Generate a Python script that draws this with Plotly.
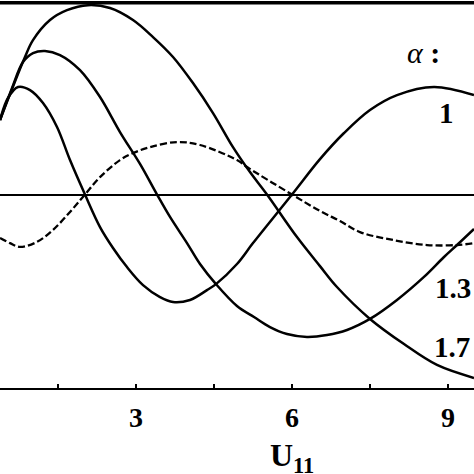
import plotly.graph_objects as go

# alpha = 1.7 (widest, highest peak)
u_a17 = [0.385, 0.615, 0.865, 1.019, 1.346, 1.673, 2.077, 2.5, 2.942, 3.327, 3.712, 4.096,
         4.481, 4.865, 5.192, 5.519, 6.096, 6.538, 6.865, 7.5, 8.154, 8.788, 9.5]
y_a17 = [0.385, 0.545, 0.711, 0.798, 0.902, 0.953, 0.979, 0.964, 0.902, 0.814, 0.711, 0.576,
         0.421, 0.245, 0.116, 0.0, -0.220, -0.370, -0.478, -0.643, -0.773, -0.881, -0.948]

# alpha = 1.3
u_a13 = [0.385, 0.615, 0.827, 1.019, 1.25, 1.538, 1.923, 2.308, 2.692, 3.077, 3.404, 3.654,
         3.981, 4.231, 4.538, 4.942, 5.269, 5.577, 5.904, 6.288, 6.673, 7.058, 7.5, 8.019,
         8.538, 8.923, 9.173, 9.5]
y_a13 = [0.385, 0.550, 0.685, 0.731, 0.742, 0.721, 0.643, 0.504, 0.323, 0.158, 0.0, -0.116,
         -0.251, -0.359, -0.463, -0.576, -0.633, -0.685, -0.721, -0.736, -0.726, -0.700, -0.643,
         -0.545, -0.426, -0.323, -0.261, -0.178]

# alpha = 1
u_a1 = [0.385, 0.538, 0.731, 0.962, 1.212, 1.481, 1.731, 2.019, 2.308, 2.558, 2.827, 3.135,
        3.462, 3.712, 4.038, 4.365, 4.538, 4.942, 5.25, 6.0, 6.538, 7.0, 7.5, 8.019, 8.731, 9.5]
y_a1 = [0.385, 0.499, 0.556, 0.540, 0.473, 0.349, 0.178, 0.0, -0.168, -0.276, -0.375, -0.468,
        -0.530, -0.556, -0.545, -0.494, -0.463, -0.359, -0.251, 0.0, 0.183, 0.318, 0.437, 0.514,
        0.556, 0.514]

# dashed curve
u_dash = [0.385, 0.577, 0.769, 1.096, 1.404, 1.731, 2.019, 2.308, 2.692, 2.942, 3.269, 3.788,
          4.231, 4.942, 5.135, 6.0, 6.538, 6.923, 7.308, 7.942, 8.596, 9.173, 9.5]
y_dash = [-0.225, -0.251, -0.271, -0.245, -0.183, -0.090, 0.0, 0.090, 0.178, 0.214, 0.245, 0.271,
          0.256, 0.178, 0.142, 0.0, -0.085, -0.137, -0.194, -0.235, -0.261, -0.261, -0.251]

major_ticks = [3, 6, 9]
tick_text = ["3", "6", "9"]
minor_ticks = [1.5, 4.5, 7.5]

labels = ["1", "1.3", "1.7"]
label_u = [8.98, 9.1, 9.08]
label_y = [0.421, -0.483, -0.788]

SERIF = "Liberation Serif, Times New Roman, serif"

fig = go.Figure()
for u, y in [(u_a17, y_a17), (u_a13, y_a13), (u_a1, y_a1)]:
    fig.add_trace(go.Scatter(x=u, y=y, mode="lines",
                             line=dict(color="black", width=2.5, shape="spline", smoothing=1),
                             showlegend=False, hoverinfo="skip"))
fig.add_trace(go.Scatter(x=u_dash, y=y_dash, mode="lines",
                         line=dict(color="black", width=2.3, dash="7px,3px",
                                   shape="spline", smoothing=1),
                         showlegend=False, hoverinfo="skip"))

for t, u, y in zip(labels, label_u, label_y):
    fig.add_annotation(x=u, y=y, xref="x", yref="y", text="<b>" + t + "</b>",
                       showarrow=False, font=dict(family=SERIF, size=29, color="black"))

fig.add_annotation(x=8.52, y=0.736, xref="x", yref="y", text="<i>α</i> <b>:</b>",
                   showarrow=False, font=dict(family=SERIF, size=30, color="black"))

# tick labels of the x axis
for v, t in zip(major_ticks, tick_text):
    fig.add_annotation(x=v, y=-0.0775, xref="x", yref="paper", yanchor="middle",
                       text="<b>" + t + "</b>", showarrow=False,
                       font=dict(family=SERIF, size=28, color="black"))

fig.add_annotation(x=6.0, y=-0.122, xref="x", yref="paper", yanchor="top",
                   text="<b>U<sub>11</sub></b>", showarrow=False,
                   font=dict(family=SERIF, size=32, color="black"))

# top frame line of the plot box
fig.add_shape(type="line", xref="paper", yref="paper", x0=0, x1=1, y0=1, y1=1,
              line=dict(color="black", width=3), layer="above")

fig.update_xaxes(range=[0.3846, 9.5], showgrid=False, zeroline=False, automargin=False,
                 showline=True, linecolor="black", linewidth=2, mirror=True,
                 ticks="inside", ticklen=4, tickwidth=1.5, tickcolor="black",
                 tickvals=major_ticks, showticklabels=False,
                 minor=dict(tickvals=minor_ticks, ticks="inside", ticklen=4,
                            tickwidth=1.5, tickcolor="black", showgrid=False))
fig.update_yaxes(range=[-1.0, 0.99], showgrid=False, showline=False, showticklabels=False,
                 automargin=False,
                 ticks="", zeroline=True, zerolinecolor="black", zerolinewidth=2)

fig.update_layout(width=474, height=474, margin=dict(l=0, r=0, t=3, b=86, pad=0),
                  paper_bgcolor="white", plot_bgcolor="white")

fig.write_html("out.html", config={"displayModeBar": False},
               post_script="document.body.style.margin='0';"
                           "document.body.style.overflow='hidden';")
